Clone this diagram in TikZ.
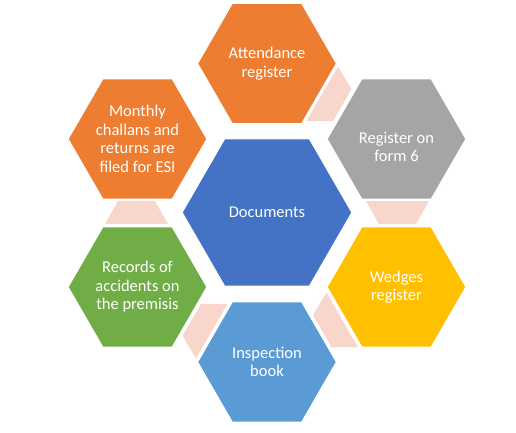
\documentclass[tikz,border=0pt]{standalone}
\usepackage{fontspec}
\setmainfont{Carlito}
\usepackage{xcolor}
\usetikzlibrary{shapes.geometric}

\definecolor{hexorange}{HTML}{ED7D31}
\definecolor{hexgray}{HTML}{A5A5A5}
\definecolor{hexyellow}{HTML}{FFC000}
\definecolor{hexblue}{HTML}{4472C4}
\definecolor{hexsky}{HTML}{5B9BD5}
\definecolor{hexgreen}{HTML}{70AD47}
\definecolor{linkpink}{HTML}{F8D6CC}

\begin{document}
\begin{tikzpicture}[x=1pt, y=-1pt,
	hextext/.style={text=white, align=center, inner sep=0pt, font=\fontsize{16.5}{18.5}\selectfont},
	hex/.style={hextext, regular polygon, regular polygon sides=6, minimum size=139pt, draw=white, line width=1.2pt},
	hubhex/.style={hex, minimum size=170pt},
	linkfill/.style={fill=linkpink}]
	\useasboundingbox (0,0) rectangle (516,433);
	% connectors between neighbouring hexagons
	\foreach \r in {0,60,120,180,240}
		\fill[linkfill, shift={(267,212.5)}, rotate=\r] (-149,-11.5) -- (-112,-11.5) -- (-99,11.5) -- (-162,11.5) -- cycle;
	\node[hubhex, fill=hexblue] (docs) at (267,212.5) {Documents};
	\node[hex, fill=hexorange] (attend) at (267,63.5) {Attendance\\register};
	\node[hex, fill=hexgray] (form) at (396.5,139) {};
	\node[hextext] (formtext) at (396.5,147) {Register on\\form 6};
	\node[hex, fill=hexyellow] (wedges) at (396.5,287) {Wedges\\register};
	\node[hex, fill=hexsky] (inspect) at (267,362) {Inspection\\book};
	\node[hex, fill=hexgreen] (records) at (137.5,287) {Records of\\accidents on\\the premisis};
	\node[hex, fill=hexorange] (monthly) at (137.5,139) {Monthly\\challans and\\returns are\\filed for ESI};
\end{tikzpicture}
\end{document}
